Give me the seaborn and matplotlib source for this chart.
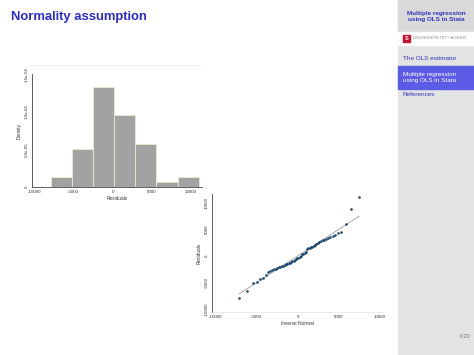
import statistics
import numpy as np
import pandas as pd
import seaborn as sns
import matplotlib
matplotlib.use("Agg")
import matplotlib.pyplot as plt
from matplotlib.patches import Rectangle

# ---------------- data ----------------
title_text = "Normality assumption"
sidebar_title = ["Multiple regression", "using OLS in Stata"]
sidebar_items = ["The OLS estimator", "Multiple regression\nusing OLS in Stata", "References"]
page_label = "6.20"

residuals = [
    -7950, -6580, -5020, -4830, -4380, -4190, -3570, -3100, -2900, -2700,
    -2450, -2350, -2250, -2150, -2020, -1900, -1800, -1700, -1580, -1450,
    -1350, -1250, -1130, -1000, -880, -750, -600, -450, -300, -100, 60,
    300, 450, 600, 750, 1350, 1450, 1550, 1650, 1780, 1900, 2050, 2200,
    2350, 2550, 2750,
    2950, 3050, 3200, 3400, 3600, 3800, 4000, 4250, 4570,
    6070, 8830, 11030,
]
hist_xticks = [-10000, -5000, 0, 5000, 10000]
hist_xticklabels = ["-10000", "-5000", "0", "5000", "10000"]
hist_yticks = [0, 5e-05, 1e-04, 1.5e-04]
hist_yticklabels = ["0", "5.0e-05", "1.0e-04", "1.5e-04"]
qq_ticks = [-10000, -5000, 0, 5000, 10000]
qq_ticklabels = ["-10000", "-5000", "0", "5000", "10000"]

# ---------------- layout helpers ----------------
W, H = 474, 355


def rect(l, t, r, b):
    return [l / W, 1 - b / H, (r - l) / W, (b - t) / H]


sns.set_style("white")
plt.rcParams["font.family"] = ["Liberation Sans", "DejaVu Sans"]

fig = plt.figure(figsize=(4.74, 3.55), dpi=100)

# overlay for slide decorations (pixel coordinates)
bg = fig.add_axes([0, 0, 1, 1])
bg.set_xlim(0, W)
bg.set_ylim(H, 0)
bg.axis("off")

blue = "#3333c0"
bg.add_patch(Rectangle((398, 0), 76, 355, color="#e3e3e3", zorder=0))
bg.add_patch(Rectangle((398, 0), 76, 32, color="#d9d9d9", zorder=0))
bg.add_patch(Rectangle((398, 32), 76, 13, color="#ffffff", zorder=0))
bg.add_patch(Rectangle((398, 66), 76, 23, color="#5b5be6", zorder=0))

bg.text(11, 17, title_text, color="#2a2ad0", fontsize=9.4, fontweight="bold",
        va="center", ha="left")
bg.text(436, 16, "\n".join(sidebar_title), color=blue, fontsize=4.6,
        fontweight="bold", ha="center", va="center", linespacing=1.25)
# logo
bg.add_patch(Rectangle((403.5, 34.5), 6.5, 7, color="#c8102e", zorder=1))
bg.text(406.8, 38.2, "S", color="white", fontsize=4, fontweight="bold",
        ha="center", va="center")
bg.text(413, 38.3, "UNIVERSITETET I AGDER", color="#8a8a8a", fontsize=3.2,
        ha="left", va="center")
bg.text(403, 59, sidebar_items[0], color=blue, fontsize=4.6, ha="left", va="center")
bg.text(403, 77.5, sidebar_items[1], color="white", fontsize=4.6, ha="left",
        va="center", linespacing=1.25)
bg.text(403, 95, sidebar_items[2], color=blue, fontsize=4.6, ha="left", va="center")
bg.text(470, 337, page_label, color="#777777", fontsize=4, ha="right", va="center")
# faint top border of the histogram graph region
bg.plot([30, 201], [65, 65], color="#ececec", lw=0.6)

tick_kw = dict(labelsize=3.2, length=1.5, width=0.5, colors="#333333", pad=1)

# ---------------- histogram ----------------
ax1 = fig.add_axes(rect(32, 74.4, 201.7, 187))
df = pd.DataFrame({"Residuals": residuals})
sns.histplot(data=df, x="Residuals", bins=7, stat="density", ax=ax1,
             color="#a2a2a2", edgecolor="#ebe8cc", linewidth=0.6, alpha=1)
ax1.set_xlim(-10346, 11410)
ax1.set_ylim(0, 1.5e-04)
ax1.set_xticks(hist_xticks, hist_xticklabels)
ax1.set_yticks(hist_yticks, hist_yticklabels, rotation=90, va="center")
ax1.tick_params(**tick_kw)
ax1.set_xlabel("Residuals", fontsize=3.4, labelpad=1, color="#333333")
ax1.set_ylabel("Density", fontsize=3.4, labelpad=2, color="#333333")
for s in ["top", "right"]:
    ax1.spines[s].set_visible(False)
for s in ["left", "bottom"]:
    ax1.spines[s].set_color("#444444")
    ax1.spines[s].set_linewidth(0.6)
ax1.patch.set_alpha(0)

# ---------------- Q-Q plot ----------------
ax2 = fig.add_axes(rect(212.3, 194, 383, 312))
res = np.sort(np.array(residuals, dtype=float))
n = len(res)
nd = statistics.NormalDist(res.mean(), res.std(ddof=1))
theo = np.array([nd.inv_cdf(i / (n + 1)) for i in range(1, n + 1)])
qq = pd.DataFrame({"Inverse Normal": theo, "Residuals": res})
ax2.plot([theo.min(), theo.max()], [theo.min(), theo.max()],
         color="#9a9a9a", lw=0.6, zorder=1)
sns.scatterplot(data=qq, x="Inverse Normal", y="Residuals", ax=ax2,
                color="#1a476f", s=3.5, linewidth=0, zorder=2)
ax2.set_xlim(-10389, 10377)
ax2.set_ylim(-10526, 11654)
ax2.set_xticks(qq_ticks, qq_ticklabels)
ax2.set_yticks(qq_ticks, qq_ticklabels, rotation=90, va="center")
ax2.tick_params(**tick_kw)
ax2.set_xlabel("Inverse Normal", fontsize=3.4, labelpad=1, color="#333333")
ax2.set_ylabel("Residuals", fontsize=3.4, labelpad=2, color="#333333")
for s in ["top", "right"]:
    ax2.spines[s].set_visible(False)
ax2.spines["left"].set_color("#444444")
ax2.spines["left"].set_linewidth(0.6)
ax2.spines["bottom"].set_color("#dddddd")
ax2.spines["bottom"].set_linewidth(0.4)
ax2.patch.set_alpha(0)

fig.savefig("out.png", dpi=100)
